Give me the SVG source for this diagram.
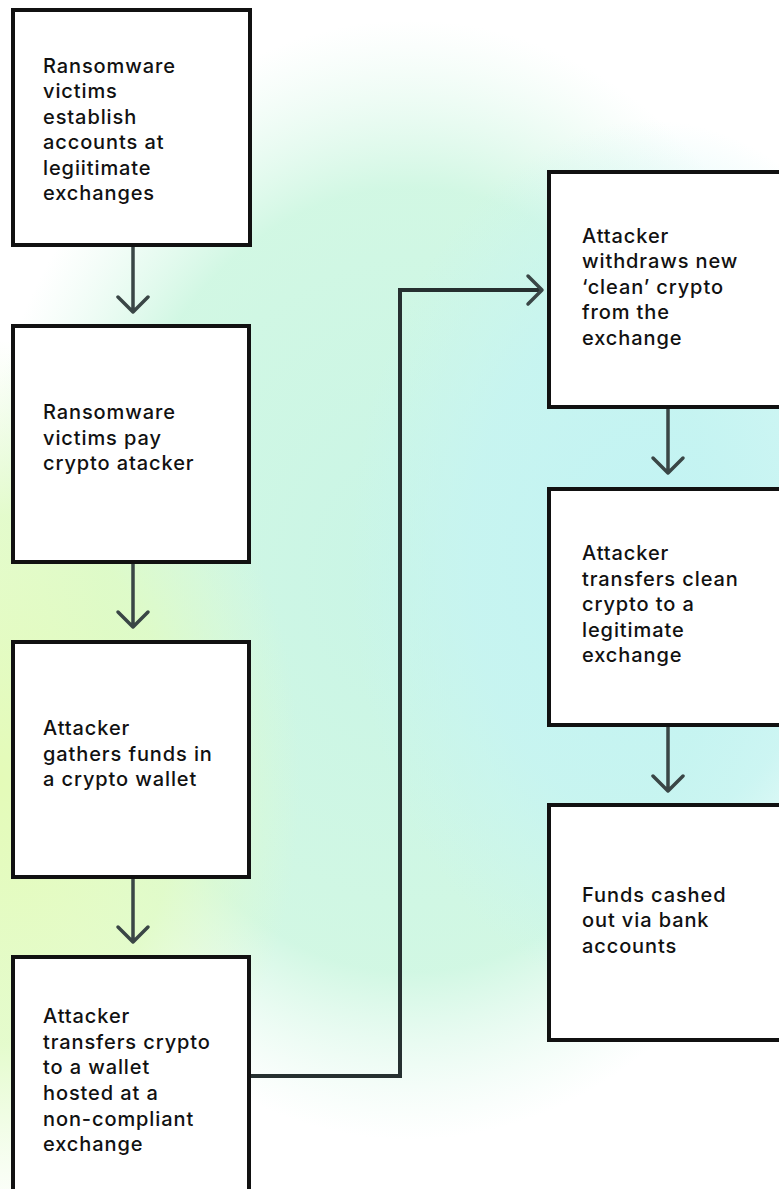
<svg xmlns="http://www.w3.org/2000/svg" width="779" height="1189" viewBox="0 0 779 1189">
<style>
.box{fill:#ffffff;stroke:#111111;stroke-width:4}
.lbl{font-family:Inter,"Noto Sans","Liberation Sans",sans-serif;font-size:20px;font-weight:500;letter-spacing:0.9px;fill:#111111}
.arr{fill:none;stroke:#3a4646;stroke-width:3.5;stroke-linecap:round;stroke-linejoin:round}
.con{fill:none;stroke:#263030;stroke-width:4;stroke-linejoin:miter}
</style>
<defs>
<radialGradient id="gMint" cx="0.5" cy="0.5" r="0.5">
<stop offset="0" stop-color="#c9f5e6" stop-opacity="1"/>
<stop offset="0.7" stop-color="#cff7e2" stop-opacity="0.95"/>
<stop offset="1" stop-color="#e0f9ec" stop-opacity="0"/>
</radialGradient>
<radialGradient id="gCyan" cx="0.5" cy="0.5" r="0.5">
<stop offset="0" stop-color="#c2f3f4" stop-opacity="1"/>
<stop offset="0.6" stop-color="#c6f4f2" stop-opacity="0.85"/>
<stop offset="1" stop-color="#c8f5f2" stop-opacity="0"/>
</radialGradient>
<radialGradient id="gLime" cx="0.5" cy="0.5" r="0.5">
<stop offset="0" stop-color="#e4fbb8" stop-opacity="1"/>
<stop offset="0.6" stop-color="#e0fbc4" stop-opacity="0.85"/>
<stop offset="1" stop-color="#e2fbd0" stop-opacity="0"/>
</radialGradient>
</defs>
<g id="background">
<rect x="0" y="0" width="779" height="1189" fill="#ffffff"/>
<ellipse cx="410" cy="580" rx="440" ry="560" fill="url(#gMint)"/>
<ellipse cx="650" cy="560" rx="300" ry="440" fill="url(#gCyan)"/>
<ellipse cx="0" cy="780" rx="300" ry="440" fill="url(#gLime)"/>
</g>
<g id="connectors">
<path class="arr" d="M133 247 V312 M118 297 L133 312 L148 297"/>
<path class="arr" d="M133 564 V627 M118 612 L133 627 L148 612"/>
<path class="arr" d="M133 879 V942 M118 927 L133 942 L148 927"/>
<path class="arr" d="M668 409 V473 M653 458 L668 473 L683 458"/>
<path class="arr" d="M668 727 V791 M653 776 L668 791 L683 776"/>
<path class="con" d="M251 1076 H400 V290 H541"/>
<path class="arr" d="M528 276 L542 290 L528 304"/>
</g>
<g id="node1">
<rect class="box" x="13" y="10" width="237" height="235"/>
<text class="lbl" x="43"><tspan x="43" y="73">Ransomware</tspan><tspan x="43" y="98">victims</tspan><tspan x="43" y="124">establish</tspan><tspan x="43" y="149">accounts at</tspan><tspan x="43" y="175">legiitimate</tspan><tspan x="43" y="200">exchanges</tspan></text>
</g>
<g id="node2">
<rect class="box" x="13" y="326" width="236" height="236"/>
<text class="lbl" x="43"><tspan x="43" y="419">Ransomware</tspan><tspan x="43" y="445">victims pay</tspan><tspan x="43" y="470">crypto atacker</tspan></text>
</g>
<g id="node3">
<rect class="box" x="13" y="642" width="236" height="235"/>
<text class="lbl" x="43"><tspan x="43" y="735">Attacker</tspan><tspan x="43" y="761">gathers funds in</tspan><tspan x="43" y="786">a crypto wallet</tspan></text>
</g>
<g id="node4">
<rect class="box" x="13" y="957" width="236" height="245"/>
<text class="lbl" x="43"><tspan x="43" y="1023">Attacker</tspan><tspan x="43" y="1049">transfers crypto</tspan><tspan x="43" y="1074">to a wallet</tspan><tspan x="43" y="1100">hosted at a</tspan><tspan x="43" y="1126">non-compliant</tspan><tspan x="43" y="1151">exchange</tspan></text>
</g>
<g id="node5">
<rect class="box" x="549" y="172" width="260" height="235"/>
<text class="lbl" x="582"><tspan x="582" y="243">Attacker</tspan><tspan x="582" y="268">withdraws new</tspan><tspan x="582" y="294">‘clean’ crypto</tspan><tspan x="582" y="319">from the</tspan><tspan x="582" y="345">exchange</tspan></text>
</g>
<g id="node6">
<rect class="box" x="549" y="489" width="260" height="236"/>
<text class="lbl" x="582"><tspan x="582" y="560">Attacker</tspan><tspan x="582" y="586">transfers clean</tspan><tspan x="582" y="611">crypto to a</tspan><tspan x="582" y="637">legitimate</tspan><tspan x="582" y="662">exchange</tspan></text>
</g>
<g id="node7">
<rect class="box" x="549" y="805" width="260" height="235"/>
<text class="lbl" x="582"><tspan x="582" y="902">Funds cashed</tspan><tspan x="582" y="927">out via bank</tspan><tspan x="582" y="953">accounts</tspan></text>
</g>
</svg>
